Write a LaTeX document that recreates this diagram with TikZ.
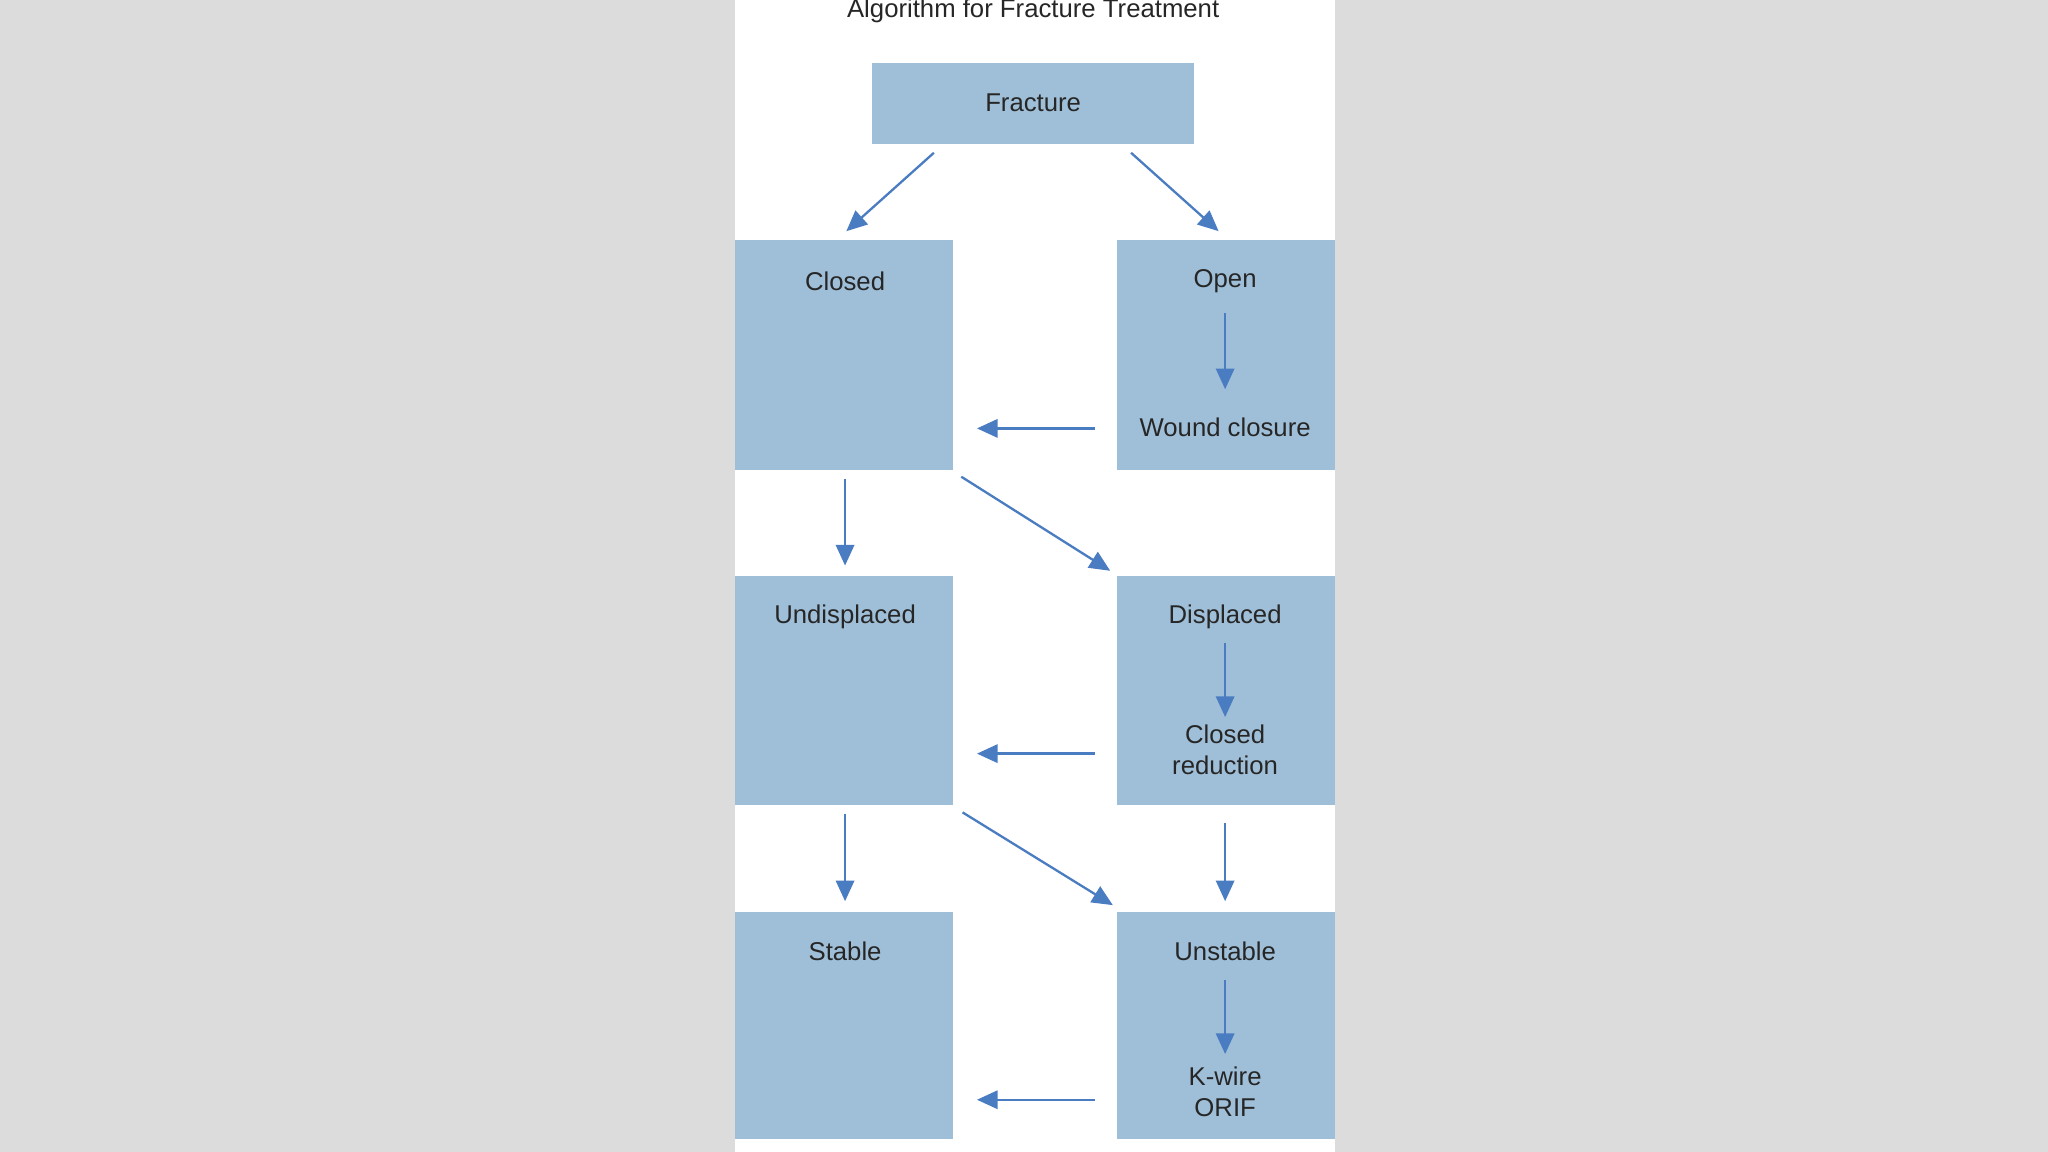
\documentclass[tikz,border=0pt]{standalone}
\usepackage{fontspec}
\setmainfont{Liberation Sans}
\usetikzlibrary{arrows.meta}
\definecolor{bg}{HTML}{DCDCDC}
\definecolor{boxc}{HTML}{9FBFD8}
\definecolor{arr}{HTML}{4A7CC2}
\begin{document}
\begin{tikzpicture}[x=0.01cm,y=-0.01cm,
  box/.style={fill=boxc,draw=none},
  lab/.style={font=\fontsize{5.6}{6.6}\selectfont,align=center,text=black!85},
  ar/.style={draw=arr,line width=0.5pt,-{Triangle[length=4.5pt,width=4pt]}}]
\useasboundingbox (0,0) rectangle (1568,882);
\fill[bg] (0,0) rectangle (1568,882);
\fill[white] (563,0) rectangle (1022,882);
\node[lab] (title) at (791,8) {Algorithm for Fracture Treatment};
\fill[box] (668,48) rectangle (914,110); \node[lab] (frac) at (791,79) {Fracture};
\fill[box] (563,184) rectangle (730,360); \node[lab] (closed) at (647,215) {Closed};
\fill[box] (855,184) rectangle (1022,360); \node[lab] (open) at (938,215) {Open};
\node[lab] (wound) at (938,327) {Wound closure};
\fill[box] (563,441) rectangle (730,616); \node[lab] (undis) at (647,472) {Undisplaced};
\fill[box] (855,441) rectangle (1022,616); \node[lab] (dis) at (938,472) {Displaced};
\node[lab] (cred) at (938,574) {Closed\\reduction};
\fill[box] (563,698) rectangle (730,872); \node[lab] (stable) at (647,728) {Stable};
\fill[box] (855,698) rectangle (1022,872); \node[lab] (unst) at (938,728) {Unstable};
\node[lab] (kw) at (938,836) {K-wire\\ORIF};
\coordinate (a1) at (715,117); \coordinate (b1) at (648,177);
\coordinate (a2) at (866,117); \coordinate (b2) at (933,177);
\coordinate (a3) at (938,240); \coordinate (b3) at (938,298);
\coordinate (a4) at (838,328); \coordinate (b4) at (748,328);
\coordinate (a5) at (647,367); \coordinate (b5) at (647,433);
\coordinate (a6) at (736,365); \coordinate (b6) at (850,437);
\coordinate (a7) at (938,492); \coordinate (b7) at (938,549);
\coordinate (a8) at (838,577); \coordinate (b8) at (748,577);
\coordinate (a9) at (647,623); \coordinate (b9) at (647,690);
\coordinate (a10) at (737,622); \coordinate (b10) at (852,693);
\coordinate (a11) at (938,630); \coordinate (b11) at (938,690);
\coordinate (a12) at (938,750); \coordinate (b12) at (938,807);
\coordinate (a13) at (838,842); \coordinate (b13) at (748,842);
\foreach \i in {1,...,13} \draw[ar] (a\i) -- (b\i);
\end{tikzpicture}
\end{document}
